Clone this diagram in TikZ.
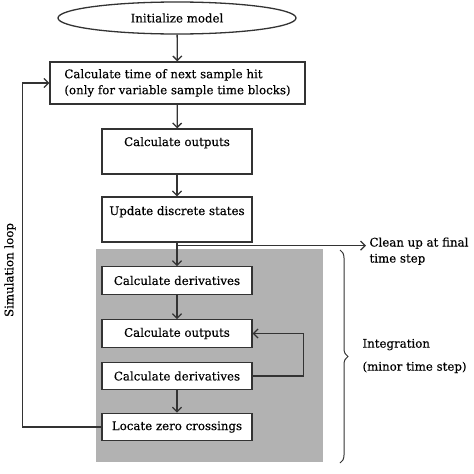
\documentclass[tikz,border=0pt]{standalone}
\usepackage{fontspec}
\setmainfont{DejaVu Serif}[FakeBold=0.4]
\usepackage{tikz}
\usetikzlibrary{shapes.geometric,arrows.meta,calc,decorations.pathreplacing}
\newcommand{\linecolor}{black!80}
\newcommand{\areacolor}{gray!60}
\newcommand{\boxwidth}{150pt}
\newcommand{\boxheight}{27.5pt}
\tikzset{
  flowbox/.style={draw=\linecolor, fill=white, line width=1.3pt, minimum width=\boxwidth, inner sep=0pt},
  flowarrow/.style={draw=\linecolor, line width=1.3pt, -{Straight Barb[length=4.5pt,width=9pt]}},
}

\begin{document}
\begin{tikzpicture}[x=1pt, y=-1pt, font=\fontsize{11.8}{16}\selectfont]
\useasboundingbox (0,0) rectangle (474,474);
%integration area
\node[fill=\areacolor, minimum width=227pt, minimum height=213pt, inner sep=0pt] (integ) at (209.5, 355.5) {};
%main column
\node[draw=\linecolor, line width=1.3pt, ellipse, minimum width=238pt, minimum height=32pt] (init) at (177, 18) {Initialize model};
\node[flowbox, minimum width=255pt, minimum height=42pt, align=left] (sample) at (177.5, 83) {Calculate time of next sample hit\\(only for variable sample time blocks)};
\node[flowbox, text height=17pt, text depth=28pt] (outputs) at (177, 151.5) {Calculate outputs};
\node[flowbox, text height=18pt, text depth=27pt] (update) at (177, 219.5) {Update discrete states};
%minor time step
\node[flowbox, minimum height=\boxheight] (der1) at (177, 280.5) {Calculate derivatives};
\node[flowbox, minimum height=\boxheight] (out2) at (177, 333.5) {Calculate outputs};
\node[flowbox, minimum height=\boxheight] (der2) at (177, 376) {Calculate derivatives};
\node[flowbox, minimum height=\boxheight] (zc) at (177, 427) {Locate zero crossings};
%labels
\node[anchor=north west, align=left] (cleanup) at (366, 234) {Clean up at final\\time step};
\node[anchor=west, align=left] (integtext) at (359, 356) {Integration\\[7pt](minor time step)};
\node[rotate=90] (simloop) at (10, 270) {Simulation loop};
%arrows
\draw[flowarrow] (init) -- (sample);
\draw[flowarrow] (sample) -- (outputs);
\draw[flowarrow] (outputs) -- (update);
\draw[flowarrow] (update) -- (der1);
\coordinate (branch) at ($(update.south)+(0,3)$);
\draw[flowarrow] (branch) -- (branch -| cleanup.west);
\draw[flowarrow] (der1) -- (out2);
\draw[flowarrow] (der2) -- (zc);
\draw[flowarrow] (der2.east) -- ++(51,0) |- (out2.east);
\draw[flowarrow] (zc.west) -- ++(-79,0) |- (sample.west);
%brace
\coordinate (bracetop) at (340, 250);
\coordinate (bracebot) at (340, 463);
\draw[\linecolor, line width=1pt, decorate, decoration={brace, amplitude=8pt}] (bracetop) -- (bracebot);
\end{tikzpicture}
\end{document}
